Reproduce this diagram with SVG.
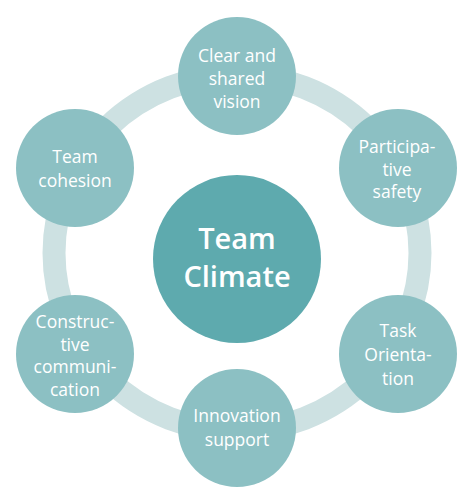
<svg xmlns="http://www.w3.org/2000/svg" width="474" height="504" viewBox="0 0 474 504">
<style>
.node{fill:#8cc0c3}
.t{fill:#ffffff;font-family:"Open Sans","Noto Sans",sans-serif;font-size:17.5px;text-anchor:middle}
.c{fill:#ffffff;font-family:"Open Sans","Noto Sans",sans-serif;font-size:29px;font-weight:600;text-anchor:middle}
</style>
<rect width="474" height="504" fill="#ffffff"/>
<g id="connectors">
<ellipse cx="237" cy="253" rx="183" ry="178" fill="none" stroke="#cde1e2" stroke-width="23"/>
</g>
<g id="center">
<circle cx="237" cy="259" r="84" fill="#5eaaae"/>
<text class="c" x="237" y="249">Team</text>
<text class="c" x="237" y="287">Climate</text>
</g>
<g id="vision">
<circle class="node" cx="237" cy="76" r="59"/>
<text class="t" x="237" y="62">Clear and</text>
<text class="t" x="237" y="85">shared</text>
<text class="t" x="237" y="108">vision</text>
</g>
<g id="safety">
<circle class="node" cx="398" cy="168" r="59"/>
<text class="t" x="397" y="153">Participa-</text>
<text class="t" x="397" y="176">tive</text>
<text class="t" x="397" y="198">safety</text>
</g>
<g id="task">
<circle class="node" cx="398" cy="354" r="59"/>
<text class="t" x="398" y="337">Task</text>
<text class="t" x="398" y="361">Orienta-</text>
<text class="t" x="398" y="385">tion</text>
</g>
<g id="innovation">
<circle class="node" cx="237" cy="428" r="59"/>
<text class="t" x="237" y="422">Innovation</text>
<text class="t" x="237" y="446">support</text>
</g>
<g id="communication">
<circle class="node" cx="75" cy="354" r="59"/>
<text class="t" x="75" y="328">Construc-</text>
<text class="t" x="75" y="351">tive</text>
<text class="t" x="75" y="373">communi-</text>
<text class="t" x="75" y="396">cation</text>
</g>
<g id="cohesion">
<circle class="node" cx="75" cy="168" r="59"/>
<text class="t" x="75" y="163">Team</text>
<text class="t" x="75" y="187">cohesion</text>
</g>
</svg>
